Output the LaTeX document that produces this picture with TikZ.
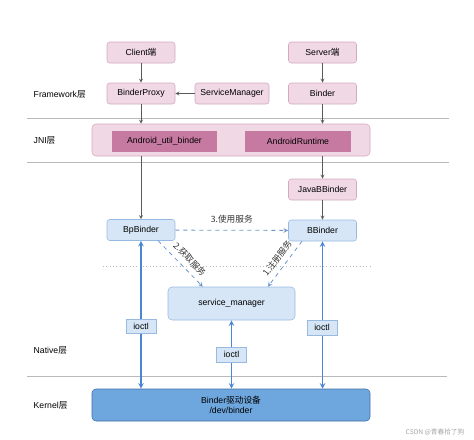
\documentclass[tikz,border=0pt]{standalone}
\usepackage{fontspec}
\setmainfont{Liberation Sans}
\newfontfamily\cjk{Noto Sans CJK SC}
\usepackage{tikz}
\usetikzlibrary{arrows,shapes,positioning,calc}
\usepackage{xcolor}
\definecolor{fwpink}{RGB}{240,216,228}
\definecolor{fwborder}{RGB}{214,168,192}
\definecolor{jnidark}{RGB}{198,122,162}
\definecolor{nblue}{RGB}{214,230,246}
\definecolor{nborder}{RGB}{150,186,224}
\definecolor{kblue}{RGB}{110,166,222}
\definecolor{kborder}{RGB}{62,110,168}
\definecolor{arrowblue}{RGB}{74,134,212}
\definecolor{dashblue}{RGB}{110,150,205}
\definecolor{sepgray}{RGB}{185,185,185}
\newcommand{\boxfont}{\fontsize{6.5}{8}\selectfont}
\tikzstyle{pinkbox} = [draw=fwborder, fill=fwpink, rounded corners=2pt, minimum width=51pt, minimum height=15.75pt, inner sep=1pt, font=\boxfont]
\tikzstyle{bluebox} = [draw=nborder, fill=nblue, rounded corners=2pt, minimum width=51pt, minimum height=15.75pt, inner sep=1pt, font=\boxfont]
\tikzstyle{ioctlbox} = [draw=nborder, fill=nblue, minimum width=22.5pt, minimum height=10.5pt, inner sep=1pt, font=\boxfont]
\tikzstyle{grayarrow} = [->,>=stealth,color=black!65, line width=0.4pt]
\tikzstyle{bluearrow} = [<->,>=stealth,color=arrowblue, line width=0.9pt]
\tikzstyle{dasharrow} = [->,>=stealth,color=dashblue, dashed, line width=0.6pt]
\tikzstyle{steplbl} = [font=\boxfont\cjk, text=black!80, inner sep=1pt]
\tikzstyle{sepline} = [color=sepgray, line width=0.5pt]
\tikzstyle{layerlbl} = [anchor=west, font=\boxfont]

\begin{document}
\begin{tikzpicture}[x=0.75pt, y=-0.75pt]
    \useasboundingbox (0,0) rectangle (474,439);

    % Separators
    \draw[sepline] (27,118) -- (449,118);
    \draw[sepline] (27,162) -- (449,162);
    \draw[sepline] (27,376) -- (447,376);
    \draw[sepline, dotted] (103,266) -- (370,266);

    % Layer labels
    \node[layerlbl] (lfw) at (29,94) {Framework{\cjk 层}};
    \node[layerlbl] (ljni) at (29,140) {JNI{\cjk 层}};
    \node[layerlbl] (lnat) at (29,350) {Native{\cjk 层}};
    \node[layerlbl] (lker) at (29,405) {Kernel{\cjk 层}};

    % Framework
    \node[pinkbox] (client) at (141,52.5) {Client{\cjk 端}};
    \node[pinkbox] (server) at (322.5,52.5) {Server{\cjk 端}};
    \node[pinkbox] (proxy) at (141,93.5) {BinderProxy};
    \node[pinkbox, minimum width=55.5pt] (svcmgr) at (232,93.5) {ServiceManager};
    \node[pinkbox] (binder) at (322.5,93.5) {Binder};

    % JNI
    \node[pinkbox, minimum width=208.5pt, minimum height=24pt, rounded corners=3pt] (jni) at (231,140) {};
    \node[fill=jnidark, minimum width=78.75pt, minimum height=15.75pt, inner sep=1pt, font=\boxfont] (utilb) at (164.5,141.5) {Android\_util\_binder};
    \node[fill=jnidark, minimum width=79.5pt, minimum height=15.75pt, inner sep=1pt, font=\boxfont] (art) at (298,141.5) {AndroidRuntime};

    % Native
    \node[pinkbox] (javab) at (322.5,189.5) {JavaBBinder};
    \node[bluebox] (bp) at (141,230) {BpBinder};
    \node[bluebox] (bb) at (322.5,230.5) {BBinder};
    \node[bluebox, minimum width=95.25pt, minimum height=24.75pt, rounded corners=3pt] (sm) at (231.5,303.5) {service\_manager};

    % Kernel
    \node[draw=kborder, fill=kblue, minimum width=208.5pt, minimum height=24pt, rounded corners=3pt, inner sep=1pt, font=\boxfont, align=center] (kernel) at (231,405) {Binder{\cjk 驱动设备}\\/dev/binder};

    % Gray connectors
    \draw[grayarrow] (client) -- (proxy);
    \draw[grayarrow] (server) -- (binder);
    \draw[grayarrow] (svcmgr) -- (proxy);
    \draw[grayarrow] (proxy) -- (proxy |- jni.north);
    \draw[grayarrow] (binder) -- (binder |- jni.north);
    \draw[grayarrow] (proxy |- jni.south) -- (bp);
    \draw[grayarrow] (binder |- jni.south) -- (javab);
    \draw[grayarrow] (javab) -- (bb);

    % Dashed service arrows
    \draw[dasharrow] (bp) -- (bb) node[steplbl, midway, above=4pt] {3.使用服务};
    \draw[dasharrow] ($(bp.south)!0.5!(bp.south east)$) -- ($(sm.north west)!0.55!(sm.north)$)
        node[steplbl, pos=0.55, sloped, above=3pt] {2.获取服务};
    \draw[dasharrow] ($(bb.south west)!0.4!(bb.south)$) -- ($(sm.north)!0.57!(sm.north east)$)
        node[steplbl, pos=0.5, sloped, above=3pt] {1.注册服务};

    % ioctl
    \draw[bluearrow] (bp) -- (bp |- kernel.north);
    \draw[bluearrow] (bb) -- (bb |- kernel.north);
    \draw[bluearrow] (sm) -- (sm |- kernel.north);
    \node[ioctlbox] (io1) at (141,326) {ioctl};
    \node[ioctlbox, minimum height=11.25pt] (io2) at (322,327.5) {ioctl};
    \node[ioctlbox, minimum height=11.25pt] (io3) at (231.5,354.5) {ioctl};

    % Footer
    \node[anchor=east, font=\fontsize{5}{6}\selectfont\cjk, text=black!35] (csdn) at (469,432) {CSDN @青春拾了狗};
\end{tikzpicture}
\end{document}
